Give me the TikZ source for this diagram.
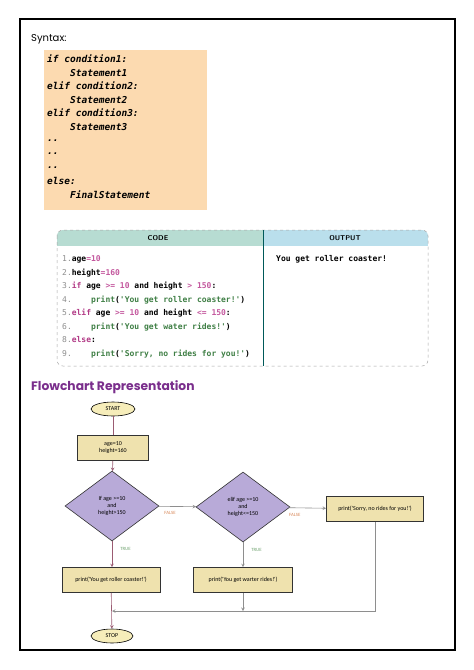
\documentclass[tikz,border=0pt]{standalone}
\usepackage{fontspec}
\usepackage{xcolor}
\usetikzlibrary{arrows, shapes, shapes.geometric}
\setmainfont{Carlito}
\setmonofont{DejaVu Sans Mono}
\newfontfamily\titlefont{Poppins}
\newfontfamily\flowfont{Carlito}

\definecolor{synfill}{HTML}{FCDAB0}
\definecolor{codehead}{HTML}{B7DCD2}
\definecolor{outhead}{HTML}{BADFEC}
\definecolor{kwpink}{HTML}{B23A86}
\definecolor{oppink}{HTML}{C4589E}
\definecolor{strgreen}{HTML}{3F7F45}
\definecolor{numgray}{HTML}{8E8E8E}
\definecolor{titlepurple}{HTML}{7A2E8C}
\definecolor{boxfill}{HTML}{EFE2AE}
\definecolor{termfill}{HTML}{F6EDBA}
\definecolor{diafill}{HTML}{B8AAD8}
\definecolor{mauve}{HTML}{9B5B72}
\definecolor{linegray}{HTML}{8E8E8E}
\definecolor{falsecol}{HTML}{D9895A}
\definecolor{truecol}{HTML}{6FA36F}

\newcommand{\codekw}[1]{\textcolor{kwpink}{#1}}
\newcommand{\codeop}[1]{\textcolor{oppink}{#1}}
\newcommand{\codestr}[1]{\textcolor{strgreen}{#1}}
\newcommand{\codeno}[1]{\textcolor{numgray}{\mdseries #1}}

\begin{document}
\begin{tikzpicture}[x=1pt, y=-1pt, >=stealth]
\tikzstyle{synline} = [anchor=west, inner sep=0pt, font=\ttfamily\bfseries\itshape\fontsize{9.5}{10}\selectfont]
\tikzstyle{codeline} = [anchor=west, inner sep=0pt, font=\ttfamily\bfseries\fontsize{8}{9}\selectfont]
\tikzstyle{head} = [inner sep=0pt, font=\sffamily\bfseries\fontsize{7}{8}\selectfont]
\tikzstyle{terminal} = [ellipse, draw=black, fill=termfill, line width=0.6pt, minimum width=44pt, minimum height=14pt, inner sep=0pt, font=\flowfont\fontsize{6}{6.5}\selectfont]
\tikzstyle{process} = [rectangle, draw=black!80, fill=boxfill, line width=0.6pt, minimum height=25pt, inner sep=1pt, align=center, font=\flowfont\fontsize{6}{7}\selectfont]
\tikzstyle{decision} = [diamond, draw=black!80, fill=diafill, line width=0.6pt, minimum width=94pt, minimum height=70pt, inner sep=0pt, align=center, font=\flowfont\fontsize{6}{7}\selectfont]
\tikzstyle{mauveedge} = [draw=mauve, line width=0.6pt, ->]
\tikzstyle{grayedge} = [draw=linegray, line width=0.6pt, ->]
\tikzstyle{falselabel} = [text=falsecol, inner sep=0pt, font=\flowfont\fontsize{4.8}{5}\selectfont]
\tikzstyle{truelabel} = [text=truecol, inner sep=0pt, font=\flowfont\fontsize{4.8}{5}\selectfont]

\useasboundingbox (0,0) rectangle (474,670);
\fill[white] (0,0) rectangle (474,670);

% page frame
\draw[line width=1.4pt] (20,19) rectangle (455,650);

% syntax
\node[anchor=west, inner sep=0pt, font=\titlefont\fontsize{10}{11}\selectfont] (syntax) at (31,39) {Syntax:};
\fill[synfill] (44,50) rectangle (207,210);
\node[synline] (s1) at (47,59) {if condition1:};
\node[synline] (s2) at (70,73) {Statement1};
\node[synline] (s3) at (47,86) {elif condition2:};
\node[synline] (s4) at (70,100) {Statement2};
\node[synline] (s5) at (47,113) {elif condition3:};
\node[synline] (s6) at (70,127) {Statement3};
\node[synline] (s7) at (47,141) {..};
\node[synline] (s8) at (47,154) {..};
\node[synline] (s9) at (47,168) {..};
\node[synline] (s10) at (47,181) {else:};
\node[synline] (s11) at (70,195) {FinalStatement};

% code / output table
\begin{scope}
\clip[rounded corners=6pt] (57,230) rectangle (428,366);
\fill[codehead] (57,230) rectangle (263,246);
\fill[outhead] (263,230) rectangle (428,246);
\end{scope}
\draw[black!35, dashed, line width=0.5pt, rounded corners=6pt] (57,230) rectangle (428,366);
\draw[teal!70!black, line width=0.6pt] (263,230) -- (263,366);
\node[head] (codehd) at (158,238) {CODE};
\node[head] (outhd) at (345,238) {OUTPUT};

\node[codeline] (c1) at (62,259) {\codeno{1.}age\codeop{=10}};
\node[codeline] (c2) at (62,273) {\codeno{2.}height\codeop{=160}};
\node[codeline] (c3) at (62,286) {\codeno{3.}\codekw{if} age \codeop{>=} \codeop{10} and height \codeop{>} \codeop{150}:};
\node[codeline] (c4) at (62,300) {\codeno{4.}\ \ \ \ \codestr{print}(\codestr{'You get roller coaster!'})};
\node[codeline] (c5) at (62,313) {\codeno{5.}\codekw{elif} age \codeop{>=} \codeop{10} and height \codeop{<=} \codeop{150}:};
\node[codeline] (c6) at (62,327) {\codeno{6.}\ \ \ \ \codestr{print}(\codestr{'You get water rides!'})};
\node[codeline] (c7) at (62,340) {\codeno{8.}\codekw{else}:};
\node[codeline] (c8) at (62,354) {\codeno{9.}\ \ \ \ \codestr{print}(\codestr{'Sorry, no rides for you!'})};
\node[codeline] (out) at (276,259) {You get roller coaster!};

% flowchart
\node[anchor=west, inner sep=0pt, text=titlepurple, font=\titlefont\bfseries\fontsize{12.3}{13}\selectfont] (title) at (31,387) {Flowchart Representation};

\node[terminal] (start) at (113,409) {START};
\node[process, minimum width=71pt] (init) at (113,448) {age=10\\height=160};
\node[decision] (d1) at (112,506) {If age >=10\\and\\height>150};
\node[decision] (d2) at (243,507) {elif age >=10\\and\\height<=150};
\node[process, minimum width=97pt] (sorry) at (375,509) {print('Sorry, no rides for you!')};
\node[process, minimum width=98pt] (roller) at (111,580) {print('You get roller coaster!')};
\node[process, minimum width=99pt] (water) at (243,580) {print('You get warter rides!')};
\node[terminal, minimum width=42pt] (stop) at (112,636) {STOP};
\coordinate (join) at (112,611);
\coordinate (sorrydown) at (375,611);
\coordinate (waterdown) at (243,611);

\draw[mauveedge, -] (start) -- (init);
\draw[mauveedge] (init) -- (d1);
\draw[mauveedge] (d1) -- node[truelabel, pos=0.3, right=8pt] (t1) {TRUE} (d1 |- roller.north);
\draw[grayedge] (d1) -- node[falselabel, pos=0.3, below=5pt] (f1) {FALSE} (d2);
\draw[grayedge] (d2) -- node[falselabel, pos=0.15, below=5pt] (f2) {FALSE} (sorry);
\draw[grayedge] (d2) -- node[truelabel, pos=0.3, right=8pt] (t2) {TRUE} (water);
\draw[grayedge] (sorry) -- (sorrydown) -- (join);
\draw[grayedge] (water) -- (waterdown);
\draw[mauveedge] (roller) -- (stop);
\end{tikzpicture}
\end{document}
